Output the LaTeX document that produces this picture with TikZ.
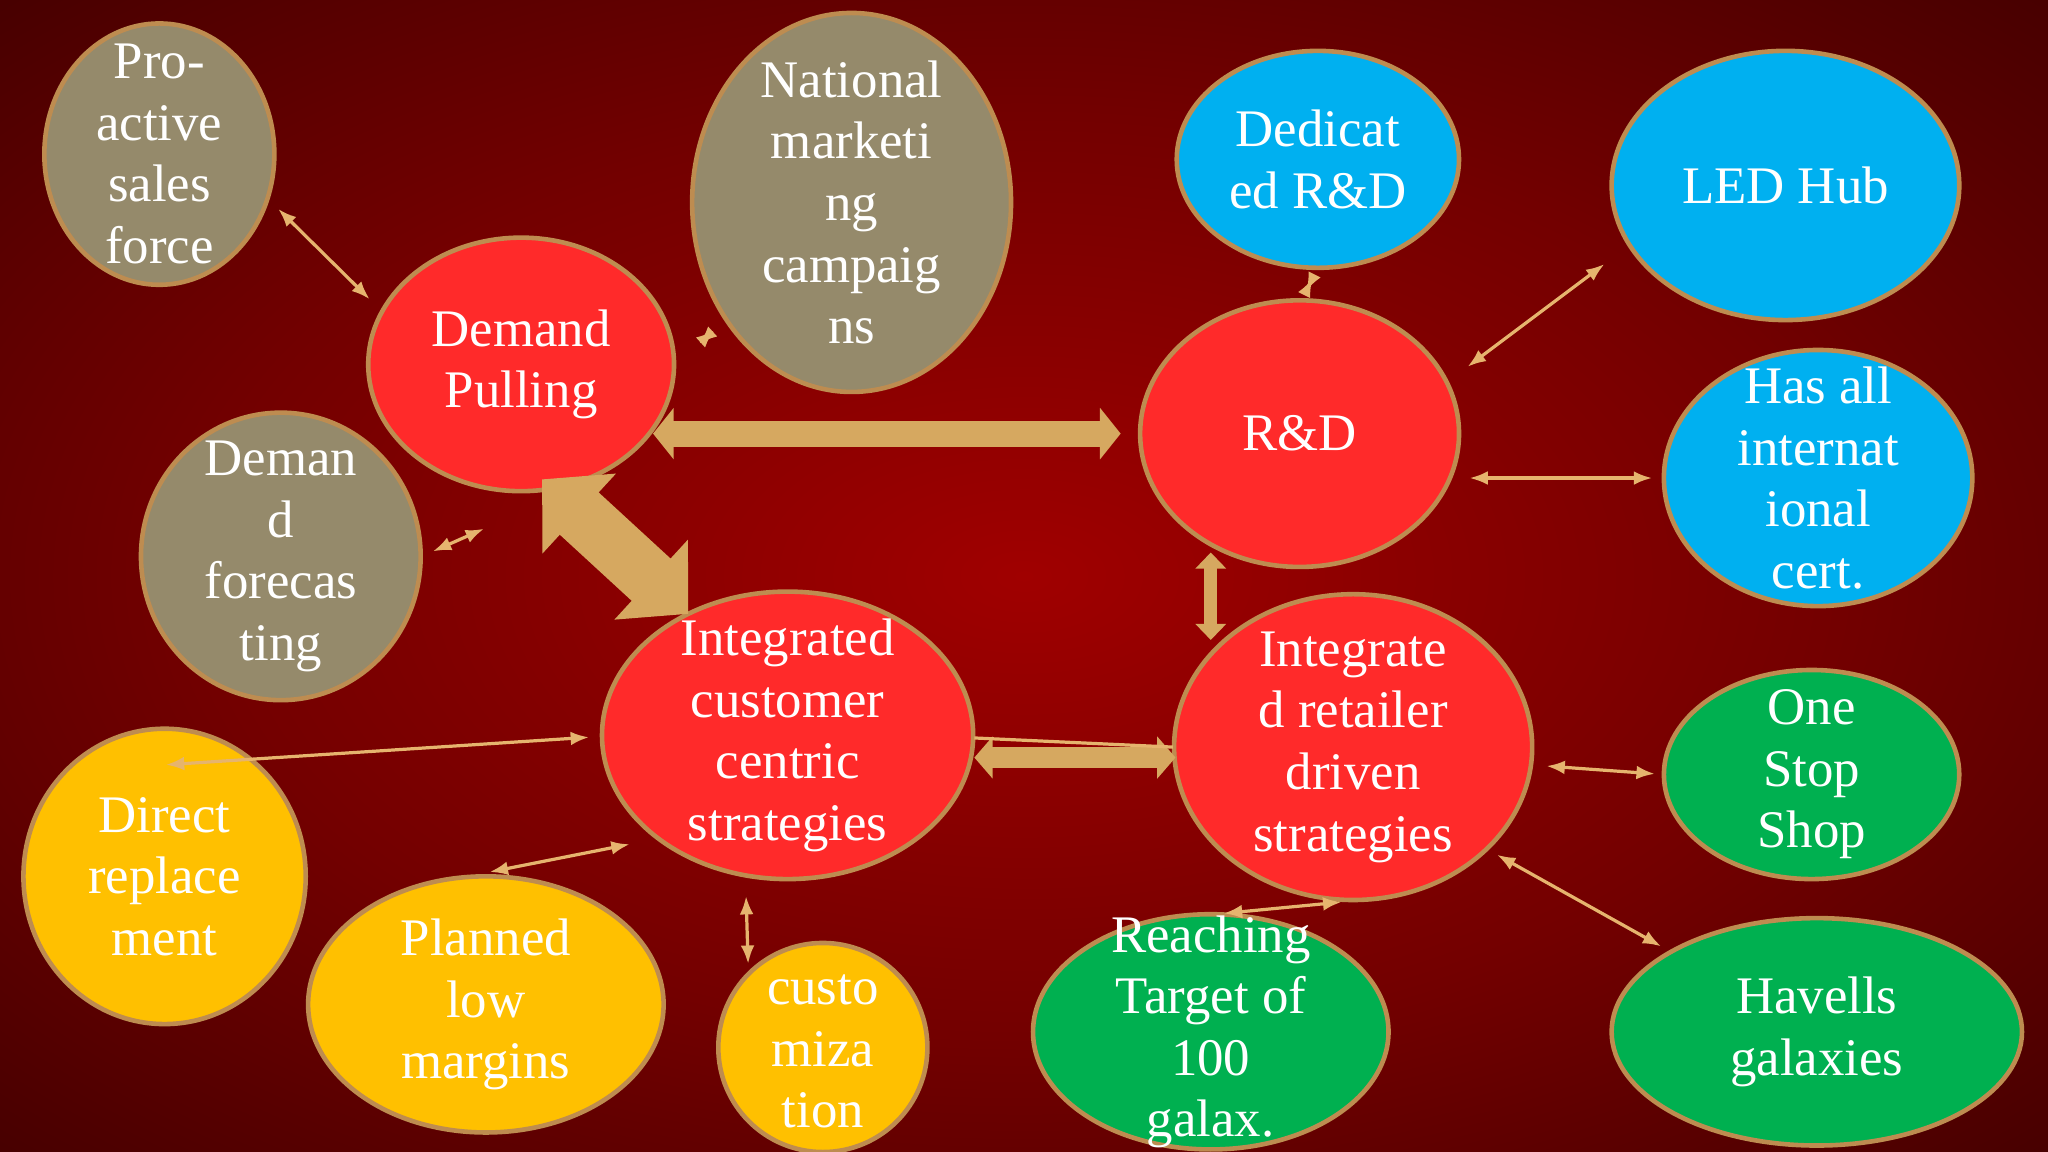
\documentclass[tikz,border=0pt]{standalone}
\usepackage{fontspec}
\setmainfont{Liberation Serif}
\usetikzlibrary{shapes.geometric,arrows.meta}
\definecolor{bgin}{RGB}{160,0,0}
\definecolor{bgmid}{RGB}{115,0,0}
\definecolor{bgout}{RGB}{30,0,0}
\definecolor{khaki}{RGB}{149,138,107}
\definecolor{redn}{RGB}{255,42,42}
\definecolor{bluen}{RGB}{0,176,240}
\definecolor{yel}{RGB}{255,192,0}
\definecolor{grn}{RGB}{0,176,80}
\definecolor{edge}{RGB}{190,140,80}
\definecolor{tan}{RGB}{214,168,96}
\definecolor{tanline}{RGB}{230,180,110}
\pgfdeclareradialshading{bgshade}{\pgfpoint{0bp}{0bp}}{color(0bp)=(bgin); color(20bp)=(bgmid); color(50bp)=(bgout)}
\begin{document}
\begin{tikzpicture}[x=0.01cm,y=-0.01cm,
 bub/.style={ellipse,draw=edge,line width=1pt,inner sep=0pt},
 txt/.style={text=white,align=center,font=\fontsize{11.5}{13.4}\selectfont},
 thin/.style={draw=tanline,line width=0.7pt,{Latex[length=4pt,width=3pt]}-{Latex[length=4pt,width=3pt]},shorten <=2pt,shorten >=2pt},
 fat/.style={draw=tan}]
\useasboundingbox (0,0) rectangle (1568,882);
\shade[shading=bgshade] (0,0) rectangle (1568,882);
% nodes
\node[bub,fill=khaki,minimum width=1.76cm,minimum height=2.0cm] (pro) at (122,118) {};
\node[bub,fill=khaki,minimum width=2.44cm,minimum height=2.9cm] (nat) at (652,155) {};
\node[bub,fill=redn,minimum width=2.34cm,minimum height=1.94cm] (dem) at (399,279) {};
\node[bub,fill=khaki,minimum width=2.14cm,minimum height=2.2cm] (demf) at (215,426) {};
\node[bub,fill=redn,minimum width=2.44cm,minimum height=2.04cm] (rd) at (995,332) {};
\node[bub,fill=bluen,minimum width=2.16cm,minimum height=1.66cm] (ded) at (1009,122) {};
\node[bub,fill=bluen,minimum width=2.66cm,minimum height=2.06cm] (led) at (1367,142) {};
\node[bub,fill=bluen,minimum width=2.36cm,minimum height=1.96cm] (has) at (1392,366) {};
\node[bub,fill=redn,minimum width=2.84cm,minimum height=2.2cm] (icc) at (603,563) {};
\node[bub,fill=redn,minimum width=2.74cm,minimum height=2.34cm] (irs) at (1036,572) {};
\node[bub,fill=yel,minimum width=2.16cm,minimum height=2.26cm] (dir) at (126,671) {};
\node[bub,fill=yel,minimum width=2.72cm,minimum height=1.96cm] (plan) at (372,769) {};
\node[bub,fill=yel,minimum width=1.6cm,minimum height=1.6cm] (cust) at (630,802) {};
\node[bub,fill=grn,minimum width=2.72cm,minimum height=1.8cm] (reach) at (927,790) {};
\node[bub,fill=grn,minimum width=2.26cm,minimum height=1.6cm] (one) at (1387,593) {};
\node[bub,fill=grn,minimum width=3.14cm,minimum height=1.74cm] (hav) at (1391,790) {};
% labels
\node[txt] (proT) at (pro) {Pro-\\active\\sales\\force};
\node[txt] (natT) at (nat) {National\\marketi\\ng\\campaig\\ns};
\node[txt] (demT) at (dem) {Demand\\Pulling};
\node[txt] (demfT) at (demf) {Deman\\d\\forecas\\ting};
\node[txt] (rdT) at (rd) {R\&D};
\node[txt] (dedT) at (ded) {Dedicat\\ed R\&D};
\node[txt] (ledT) at (led) {LED Hub};
\node[txt] (hasT) at (has) {Has all\\internat\\ional\\cert.};
\node[txt] (iccT) at (icc) {Integrated\\customer\\centric\\strategies};
\node[txt] (irsT) at (irs) {Integrate\\d retailer\\driven\\strategies};
\node[txt] (dirT) at (dir) {Direct\\replace\\ment};
\node[txt] (planT) at (plan) {Planned\\low\\margins};
\node[txt] (custT) at (630,805) {custo\\miza\\tion};
\node[txt] (reachT) at (927,790) {Reaching\\Target of\\100\\galax.};
\node[txt] (oneT) at (one) {One\\Stop\\Shop};
\node[txt] (havT) at (hav) {Havells\\galaxies};
% anchor coordinates for arrows
\coordinate (a1) at (500,332); \coordinate (b1) at (858,332);
\coordinate (a2) at (415,367); \coordinate (b2) at (527,470);
\coordinate (a3) at (927,423); \coordinate (b3) at (927,490);
\coordinate (a4) at (746,580); \coordinate (b4) at (900,580);
% fat arrows
\draw[fat,line width=5.7pt,{Triangle[length=4.5pt,width=11pt]}-{Triangle[length=4.5pt,width=11pt]}] (a1) -- (b1);
\draw[fat,line width=12.5pt,{Triangle[length=11pt,width=23pt]}-{Triangle[length=11pt,width=23pt]}] (a2) -- (b2);
\draw[fat,line width=2.8pt,{Triangle[length=3.5pt,width=6.5pt]}-{Triangle[length=3.5pt,width=6.5pt]}] (a3) -- (b3);
\draw[fat,line width=4.5pt,{Triangle[length=4pt,width=9pt]}-{Triangle[length=4pt,width=9pt]}] (a4) -- (b4);
% thin arrows
\coordinate (c1) at (120,586); \coordinate (d1) at (458,564);
\coordinate (c2) at (368,669); \coordinate (d2) at (489,645);
\coordinate (c3) at (571,679); \coordinate (d3) at (573,745);
\coordinate (c4) at (930,700); \coordinate (d4) at (1034,690);
\coordinate (c5) at (552,248); \coordinate (d5) at (530,268);
\coordinate (c6) at (325,425); \coordinate (d6) at (377,402);
\coordinate (c7) at (1008,207); \coordinate (d7) at (997,229);
\coordinate (c8) at (1234,198); \coordinate (d8) at (1118,285);
\coordinate (c9) at (1272,366); \coordinate (d9) at (1118,366);
\coordinate (c10) at (1274,593); \coordinate (d10) at (1177,586);
\coordinate (c11) at (1278,728); \coordinate (d11) at (1140,651);
\coordinate (c12) at (208,155); \coordinate (d12) at (288,234);
\draw[thin] (c12) -- (d12);
\draw[thin] (c5) -- (d5);
\draw[thin] (c6) -- (d6);
\draw[thin] (c7) -- (d7);
\draw[thin] (c8) -- (d8);
\draw[thin] (c9) -- (d9);
\draw[thin] (c1) -- (d1);
\draw[thin] (c2) -- (d2);
\draw[thin] (c3) -- (d3);
\draw[thin] (c4) -- (d4);
\draw[thin] (c10) -- (d10);
\draw[thin] (c11) -- (d11);
\coordinate (c13) at (746,565); \coordinate (d13) at (898,572);
\draw[draw=tanline,line width=0.7pt] (c13) -- (d13);
\end{tikzpicture}
\end{document}
